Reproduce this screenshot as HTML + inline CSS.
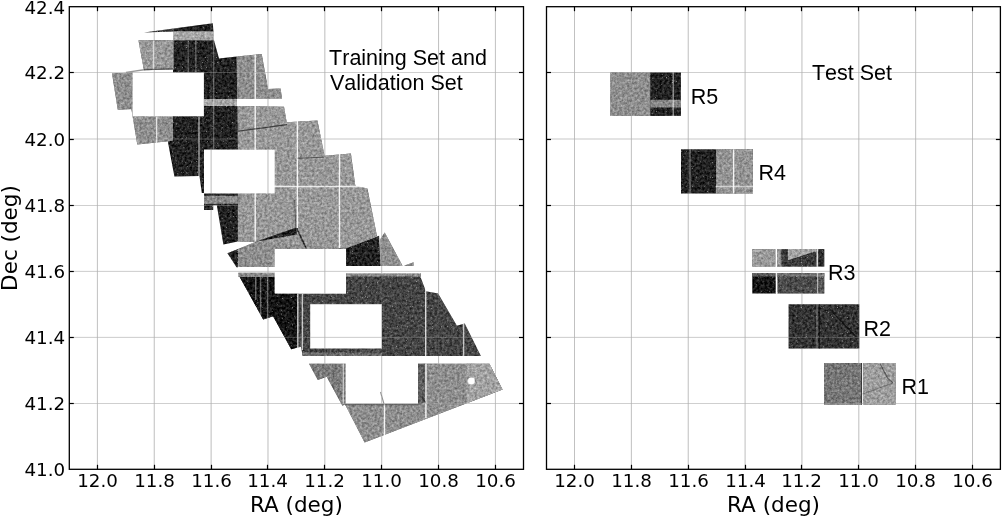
<!DOCTYPE html><html><head><meta charset="utf-8"><title>RA Dec mosaic</title><style>html,body{margin:0;padding:0;background:#fff;overflow:hidden}svg{display:block;filter:blur(0.3px)}</style></head><body><svg width="1002" height="516" viewBox="0 0 1002 516">
<defs>
<filter id="nz" x="0" y="0" width="1002" height="516" filterUnits="userSpaceOnUse" color-interpolation-filters="sRGB">
  <feTurbulence type="fractalNoise" baseFrequency="0.4" numOctaves="3" seed="7" result="t"/>
  <feColorMatrix in="t" type="matrix" values="0 0 0 1 0  0 0 0 1 0  0 0 0 1 0  0 0 0 0 1" result="g"/>
  <feComposite in="SourceGraphic" in2="g" operator="arithmetic" k1="0" k2="1" k3="0.45" k4="-0.225" result="c0"/>
  <feTurbulence type="fractalNoise" baseFrequency="0.8" numOctaves="1" seed="23" result="t2"/>
  <feColorMatrix in="t2" type="matrix" values="1 0 0 0 0  1 0 0 0 0  1 0 0 0 0  0 0 0 0 1" result="t2g"/>
  <feComponentTransfer in="t2g" result="sp">
    <feFuncR type="discrete" tableValues="0 0 0 0 0 0 0 0 0 0 0 0 0 0 0 0 0 0 0.25 0.4 0.5 0.5 0.5 0.5 0.5"/>
    <feFuncG type="discrete" tableValues="0 0 0 0 0 0 0 0 0 0 0 0 0 0 0 0 0 0 0.25 0.4 0.5 0.5 0.5 0.5 0.5"/>
    <feFuncB type="discrete" tableValues="0 0 0 0 0 0 0 0 0 0 0 0 0 0 0 0 0 0 0.25 0.4 0.5 0.5 0.5 0.5 0.5"/>
    <feFuncA type="linear" slope="0" intercept="1"/>
  </feComponentTransfer>
  <feColorMatrix in="c0" type="matrix" values="-1.5 0 0 0 1  -1.5 0 0 0 1  -1.5 0 0 0 1  0 0 0 0 1" result="w"/>
  <feComposite in="w" in2="sp" operator="arithmetic" k1="1" k2="0" k3="0" k4="0" result="ws"/>
  <feComposite in="c0" in2="ws" operator="arithmetic" k1="0" k2="1" k3="1" k4="0" result="c"/>
  <feComposite in="c" in2="SourceAlpha" operator="in"/>
</filter></defs>
<style>.tk{font-family:"DejaVu Sans",sans-serif;font-size:18.3px;fill:#000}.al{font-family:"DejaVu Sans",sans-serif;font-size:21.5px;fill:#000}.an{font-family:"Liberation Sans",Arial,sans-serif;font-size:21.5px;fill:#000;font-kerning:none}</style>
<rect width="1002" height="516" fill="#fff"/>
<g filter="url(#nz)"><polygon points="138.4,40.2 173.6,40.2 173.6,69.5 144.0,70.2" fill="#989898"/><polygon points="112.0,73.4 133.0,72.4 133.0,109.0 117.8,109.8" fill="#8e8e8e"/><polygon points="131.4,109.0 173.0,109.0 173.0,140.8 137.3,144.5" fill="#8e8e8e"/><polygon points="236.6,56.5 261.7,54.0 268.0,89.0 280.6,88.4 282.0,98.5 236.6,99.0" fill="#8e8e8e"/><polygon points="236.6,106.0 284.0,106.7 286.7,122.3 317.4,120.5 324.6,155.7 350.9,153.5 355.3,185.8 367.4,188.5 377.0,236.0 345.7,248.5 255.4,242.0 237.9,241.4 237.9,149.7" fill="#989898"/><polygon points="227.5,253.3 255.4,242.0 345.7,248.5 346.0,266.5 237.9,267.3" fill="#8e8e8e"/><polygon points="144.0,32.6 173.6,28.6 173.6,31.6" fill="#3a3a3a"/><polygon points="173.6,28.6 212.7,23.2 213.6,31.4 173.6,31.4" fill="#222222"/><rect x="173.6" y="31.4" width="40.2" height="8.8" fill="#a6a6a6"/><polygon points="173.6,40.2 214.0,40.2 219.0,58.5 236.6,56.5 237.9,149.7 204.0,149.7 204.0,193.0 201.8,193.0 199.5,176.0 174.4,176.6 167.8,141.2 173.0,140.8 173.0,69.5 173.6,69.5" fill="#222222"/><rect x="204.0" y="99.0" width="32.6" height="7.0" fill="#a6a6a6"/><rect x="204.0" y="193.3" width="36.0" height="11.2" fill="#8a8a8a"/><rect x="204.0" y="193.3" width="34.0" height="2.5" fill="#2a2a2a"/><rect x="204.0" y="203.8" width="34.0" height="1.4" fill="#2a2a2a"/><polygon points="216.7,204.5 237.9,204.5 237.9,241.4 223.4,244.6" fill="#222222"/><rect x="204.0" y="204.5" width="9.4" height="5.5" fill="#222222"/><polygon points="227.5,253.3 238.0,249.2 238.0,267.3 236.5,267.3" fill="#222222"/><polygon points="255.6,241.8 296.3,227.5 297.0,234.5" fill="#222222"/><polygon points="296.0,228.5 297.5,228.0 307.0,248.5 305.5,248.5" fill="#333"/><polygon points="345.7,248.5 379.1,235.7 380.5,266.0 345.7,266.0" fill="#222222"/><polygon points="380.5,239.0 384.7,232.4 402.5,265.8 380.5,265.8" fill="#8e8e8e"/><polygon points="404.0,265.8 413.6,262.2 413.6,265.8" fill="#8e8e8e"/><rect x="238.5" y="272.5" width="36.5" height="4.5" fill="#8a8a8a"/><polygon points="239.7,277.0 274.7,277.0 274.7,293.5 346.0,293.5 346.0,273.4 419.2,273.4 425.9,291.2 438.1,293.5 456.9,325.7 464.7,323.5 481.4,356.9 382.0,356.9 382.0,355.8 302.7,355.8 301.0,346.8 291.2,349.3 273.1,316.3 263.2,319.6" fill="#444444"/><polygon points="239.7,277.0 274.7,277.0 274.7,293.5 297.0,293.5 297.0,347.5 291.2,349.3 273.1,316.3 263.2,319.6" fill="#151515"/><rect x="346.0" y="273.4" width="75.0" height="3.1" fill="#8a8a8a"/><rect x="302.7" y="352.5" width="79.3" height="3.3" fill="#6a6a6a"/><polygon points="308.9,363.4 345.7,363.4 345.7,404.0 342.4,405.8 326.7,376.8 317.8,380.1" fill="#7a7a7a"/><polygon points="344.6,403.5 418.0,403.5 418.0,363.6 489.2,363.6 502.5,389.4 364.6,442.5" fill="#8e8e8e"/><polygon points="418.0,363.6 426.0,363.6 426.0,402.0 418.0,405.0" fill="#5e5e5e"/><polygon points="466.5,363.6 489.2,363.6 502.5,389.4 466.5,403.3" fill="#a2a2a2"/><rect x="610.4" y="72.3" width="39.8" height="43.6" fill="#8e8e8e"/><rect x="650.2" y="72.3" width="30.7" height="43.6" fill="#222222"/><rect x="650.2" y="99.8" width="30.7" height="7.7" fill="#878787"/><rect x="681.0" y="149.3" width="35.1" height="44.2" fill="#222222"/><rect x="716.1" y="149.3" width="36.9" height="44.2" fill="#939393"/><rect x="752.3" y="249.1" width="23.4" height="17.5" fill="#9a9a9a"/><rect x="777.0" y="249.1" width="41.0" height="17.5" fill="#9a9a9a"/><polygon points="781.2,249.3 788.0,249.3 788.3,260.0 814.5,251.5 816.2,251.5 816.2,266.6 781.5,266.6" fill="#3a3a3a"/><polygon points="788.0,249.1 816.2,249.1 816.2,251.5 814.5,251.5 788.3,260.0" fill="#a4a4a4"/><rect x="818.0" y="249.1" width="6.3" height="17.5" fill="#2a2a2a"/><rect x="752.3" y="273.1" width="23.7" height="20.4" fill="#161616"/><rect x="777.5" y="273.1" width="40.5" height="20.4" fill="#4a4a4a"/><rect x="818.0" y="273.1" width="6.3" height="20.4" fill="#555"/><rect x="752.3" y="273.1" width="72.0" height="3.4" fill="#8a8a8a" fill-opacity="0.6"/><rect x="788.6" y="304.3" width="70.7" height="44.2" fill="#333"/><rect x="824.0" y="363.0" width="38.0" height="41.6" fill="#767676"/><rect x="863.3" y="363.0" width="32.3" height="41.6" fill="#9e9e9e"/></g>
<rect x="132.6" y="72.5" width="71.3" height="43.8" fill="#fff"/><rect x="204.0" y="149.7" width="70.7" height="43.7" fill="#fff"/><rect x="274.7" y="249.0" width="71.3" height="44.5" fill="#fff"/><rect x="310.2" y="304.2" width="71.8" height="44.3" fill="#fff"/><rect x="345.7" y="363.4" width="72.3" height="40.2" fill="#fff"/><rect x="236.6" y="99.0" width="53.4" height="7.0" fill="#fff"/><rect x="237.9" y="267.0" width="37.1" height="5.5" fill="#fff"/><rect x="346.0" y="266.0" width="74.0" height="7.4" fill="#fff"/><rect x="300.0" y="356.0" width="190.0" height="7.4" fill="#fff"/><circle cx="471.4" cy="381" r="3.4" fill="#fff"/><line x1="213.6" y1="23.5" x2="213.6" y2="149.7" stroke="#fff" stroke-width="1.4" stroke-opacity="0.3"/><line x1="255.2" y1="54.5" x2="255.2" y2="99.0" stroke="#fff" stroke-width="1.4" stroke-opacity="0.9"/><line x1="255.2" y1="106.0" x2="255.2" y2="241.5" stroke="#fff" stroke-width="1.4" stroke-opacity="0.9"/><line x1="297.4" y1="106.0" x2="297.4" y2="228.0" stroke="#fff" stroke-width="1.4" stroke-opacity="0.9"/><line x1="339.5" y1="153.5" x2="339.5" y2="248.0" stroke="#fff" stroke-width="1.4" stroke-opacity="0.9"/><line x1="199.0" y1="116.5" x2="199.0" y2="176.0" stroke="#fff" stroke-width="1.4" stroke-opacity="0.6"/><line x1="188.2" y1="40.5" x2="188.2" y2="72.0" stroke="#fff" stroke-width="1.4" stroke-opacity="0.3"/><line x1="195.8" y1="40.5" x2="195.8" y2="72.0" stroke="#fff" stroke-width="1.4" stroke-opacity="0.3"/><line x1="213.5" y1="205.5" x2="213.5" y2="241.0" stroke="#fff" stroke-width="1.4" stroke-opacity="0.5"/><line x1="255.7" y1="277.0" x2="255.7" y2="300.0" stroke="#fff" stroke-width="1.4" stroke-opacity="0.35"/><line x1="260.6" y1="277.0" x2="260.6" y2="315.0" stroke="#fff" stroke-width="1.4" stroke-opacity="0.35"/><line x1="267.6" y1="277.0" x2="267.6" y2="318.0" stroke="#fff" stroke-width="1.4" stroke-opacity="0.35"/><line x1="297.8" y1="294.0" x2="297.8" y2="349.0" stroke="#fff" stroke-width="1.4" stroke-opacity="0.7"/><line x1="302.4" y1="294.0" x2="302.4" y2="350.0" stroke="#fff" stroke-width="1.4" stroke-opacity="0.7"/><line x1="425.7" y1="273.4" x2="425.7" y2="357.0" stroke="#fff" stroke-width="1.4" stroke-opacity="0.8"/><line x1="463.6" y1="323.5" x2="463.6" y2="357.0" stroke="#fff" stroke-width="1.4" stroke-opacity="0.7"/><line x1="425.9" y1="363.6" x2="425.9" y2="418.0" stroke="#fff" stroke-width="1.4" stroke-opacity="0.9"/><line x1="384.5" y1="403.6" x2="384.5" y2="436.0" stroke="#fff" stroke-width="1.4" stroke-opacity="0.9"/><line x1="343.3" y1="363.6" x2="343.3" y2="404.0" stroke="#fff" stroke-width="1.4" stroke-opacity="0.6"/><line x1="153.5" y1="40.5" x2="153.5" y2="69.5" stroke="#fff" stroke-width="1.4" stroke-opacity="0.75"/><line x1="156.6" y1="116.5" x2="156.6" y2="143.5" stroke="#fff" stroke-width="1.4" stroke-opacity="0.75"/><line x1="238.0" y1="186.5" x2="367.0" y2="186.5" stroke="#fff" stroke-width="1.4" stroke-opacity="0.8"/><line x1="237.5" y1="131.3" x2="287" y2="124.6" stroke="#262626" stroke-width="1.1" stroke-opacity="0.8"/><line x1="297.5" y1="158.3" x2="324" y2="157.2" stroke="#262626" stroke-width="1.1" stroke-opacity="0.6"/><line x1="144" y1="69.6" x2="173" y2="68.8" stroke="#262626" stroke-width="1.1" stroke-opacity="0.6"/><line x1="126" y1="72.4" x2="144" y2="69.8" stroke="#555" stroke-width="1.4" stroke-opacity="0.6"/><line x1="294.6" y1="200" x2="295.8" y2="227.5" stroke="#262626" stroke-width="1.1" stroke-opacity="0.5"/><line x1="380.5" y1="392" x2="384" y2="404" stroke="#262626" stroke-width="1.1" stroke-opacity="0.5"/><line x1="421.5" y1="396.5" x2="425.5" y2="402.5" stroke="#262626" stroke-width="1.1" stroke-opacity="0.7"/><line x1="345" y1="404.8" x2="418" y2="404.8" stroke="#262626" stroke-width="1.1" stroke-opacity="0.5"/><line x1="673.2" y1="72.3" x2="673.2" y2="115.9" stroke="#fff" stroke-width="1.2" stroke-opacity="0.6"/><line x1="733.6" y1="149.3" x2="733.6" y2="193.5" stroke="#fff" stroke-width="1.4" stroke-opacity="0.9"/><line x1="716.0" y1="186.5" x2="753.0" y2="186.5" stroke="#fff" stroke-width="1.3" stroke-opacity="0.6"/><line x1="690.0" y1="149.3" x2="690.0" y2="193.5" stroke="#fff" stroke-width="1.4" stroke-opacity="0.35"/><line x1="776.3" y1="249.1" x2="776.3" y2="293.5" stroke="#fff" stroke-width="1.4" stroke-opacity="0.8"/><line x1="817.0" y1="304.3" x2="817.0" y2="348.5" stroke="#9a9a9a" stroke-width="1.6" stroke-opacity="0.5"/><line x1="819.3" y1="304.3" x2="819.3" y2="348.5" stroke="#000" stroke-width="1.0" stroke-opacity="0.7"/><line x1="861.6" y1="363.0" x2="861.6" y2="404.6" stroke="#222" stroke-width="1.0" stroke-opacity="0.8"/><line x1="880" y1="363.5" x2="887.8" y2="378.4" stroke="#262626" stroke-width="1.1" stroke-opacity="0.6"/><line x1="829" y1="308" x2="836" y2="316" stroke="#000" stroke-width="1.1" stroke-opacity="0.6"/><line x1="836" y1="316" x2="856.5" y2="337" stroke="#000" stroke-width="1.1" stroke-opacity="0.6"/><line x1="887.8" y1="378.4" x2="893" y2="382.9" stroke="#262626" stroke-width="1.1" stroke-opacity="0.6"/><line x1="862.5" y1="393.9" x2="893" y2="382.9" stroke="#262626" stroke-width="1.1" stroke-opacity="0.35"/><line x1="817.6" y1="249.1" x2="817.6" y2="293.5" stroke="#fff" stroke-width="1.2" stroke-opacity="0.6"/>
<g style="mix-blend-mode:darken"><line x1="97.40" y1="6.7" x2="97.40" y2="469.3" stroke="#b0b0b0" stroke-width="0.75" stroke-opacity="1.0"/><line x1="154.26" y1="6.7" x2="154.26" y2="469.3" stroke="#b0b0b0" stroke-width="0.75" stroke-opacity="1.0"/><line x1="211.12" y1="6.7" x2="211.12" y2="469.3" stroke="#b0b0b0" stroke-width="0.75" stroke-opacity="1.0"/><line x1="267.98" y1="6.7" x2="267.98" y2="469.3" stroke="#b0b0b0" stroke-width="0.75" stroke-opacity="1.0"/><line x1="324.84" y1="6.7" x2="324.84" y2="469.3" stroke="#b0b0b0" stroke-width="0.75" stroke-opacity="1.0"/><line x1="381.70" y1="6.7" x2="381.70" y2="469.3" stroke="#b0b0b0" stroke-width="0.75" stroke-opacity="1.0"/><line x1="438.56" y1="6.7" x2="438.56" y2="469.3" stroke="#b0b0b0" stroke-width="0.75" stroke-opacity="1.0"/><line x1="495.42" y1="6.7" x2="495.42" y2="469.3" stroke="#b0b0b0" stroke-width="0.75" stroke-opacity="1.0"/><line x1="69.3" y1="403.50" x2="523.5" y2="403.50" stroke="#b0b0b0" stroke-width="0.42" stroke-opacity="1.0"/><line x1="69.3" y1="337.40" x2="523.5" y2="337.40" stroke="#b0b0b0" stroke-width="0.42" stroke-opacity="1.0"/><line x1="69.3" y1="271.40" x2="523.5" y2="271.40" stroke="#b0b0b0" stroke-width="0.42" stroke-opacity="1.0"/><line x1="69.3" y1="205.50" x2="523.5" y2="205.50" stroke="#b0b0b0" stroke-width="0.42" stroke-opacity="1.0"/><line x1="69.3" y1="139.00" x2="523.5" y2="139.00" stroke="#b0b0b0" stroke-width="0.42" stroke-opacity="1.0"/><line x1="69.3" y1="72.50" x2="523.5" y2="72.50" stroke="#b0b0b0" stroke-width="0.42" stroke-opacity="1.0"/><line x1="574.50" y1="6.7" x2="574.50" y2="469.3" stroke="#b0b0b0" stroke-width="0.75" stroke-opacity="1.0"/><line x1="631.36" y1="6.7" x2="631.36" y2="469.3" stroke="#b0b0b0" stroke-width="0.75" stroke-opacity="1.0"/><line x1="688.22" y1="6.7" x2="688.22" y2="469.3" stroke="#b0b0b0" stroke-width="0.75" stroke-opacity="1.0"/><line x1="745.08" y1="6.7" x2="745.08" y2="469.3" stroke="#b0b0b0" stroke-width="0.75" stroke-opacity="1.0"/><line x1="801.94" y1="6.7" x2="801.94" y2="469.3" stroke="#b0b0b0" stroke-width="0.75" stroke-opacity="1.0"/><line x1="858.80" y1="6.7" x2="858.80" y2="469.3" stroke="#b0b0b0" stroke-width="0.75" stroke-opacity="1.0"/><line x1="915.66" y1="6.7" x2="915.66" y2="469.3" stroke="#b0b0b0" stroke-width="0.75" stroke-opacity="1.0"/><line x1="972.52" y1="6.7" x2="972.52" y2="469.3" stroke="#b0b0b0" stroke-width="0.75" stroke-opacity="1.0"/><line x1="546.5" y1="403.50" x2="1000.4" y2="403.50" stroke="#b0b0b0" stroke-width="0.42" stroke-opacity="1.0"/><line x1="546.5" y1="337.40" x2="1000.4" y2="337.40" stroke="#b0b0b0" stroke-width="0.42" stroke-opacity="1.0"/><line x1="546.5" y1="271.40" x2="1000.4" y2="271.40" stroke="#b0b0b0" stroke-width="0.42" stroke-opacity="1.0"/><line x1="546.5" y1="205.50" x2="1000.4" y2="205.50" stroke="#b0b0b0" stroke-width="0.42" stroke-opacity="1.0"/><line x1="546.5" y1="139.00" x2="1000.4" y2="139.00" stroke="#b0b0b0" stroke-width="0.42" stroke-opacity="1.0"/><line x1="546.5" y1="72.50" x2="1000.4" y2="72.50" stroke="#b0b0b0" stroke-width="0.42" stroke-opacity="1.0"/></g>
<line x1="97.40" y1="6.7" x2="97.40" y2="469.3" stroke="#b0b0b0" stroke-width="0.75" stroke-opacity="0.15"/><line x1="154.26" y1="6.7" x2="154.26" y2="469.3" stroke="#b0b0b0" stroke-width="0.75" stroke-opacity="0.15"/><line x1="211.12" y1="6.7" x2="211.12" y2="469.3" stroke="#b0b0b0" stroke-width="0.75" stroke-opacity="0.15"/><line x1="267.98" y1="6.7" x2="267.98" y2="469.3" stroke="#b0b0b0" stroke-width="0.75" stroke-opacity="0.15"/><line x1="324.84" y1="6.7" x2="324.84" y2="469.3" stroke="#b0b0b0" stroke-width="0.75" stroke-opacity="0.15"/><line x1="381.70" y1="6.7" x2="381.70" y2="469.3" stroke="#b0b0b0" stroke-width="0.75" stroke-opacity="0.15"/><line x1="438.56" y1="6.7" x2="438.56" y2="469.3" stroke="#b0b0b0" stroke-width="0.75" stroke-opacity="0.15"/><line x1="495.42" y1="6.7" x2="495.42" y2="469.3" stroke="#b0b0b0" stroke-width="0.75" stroke-opacity="0.15"/><line x1="69.3" y1="403.50" x2="523.5" y2="403.50" stroke="#b0b0b0" stroke-width="0.42" stroke-opacity="0.8"/><line x1="69.3" y1="337.40" x2="523.5" y2="337.40" stroke="#b0b0b0" stroke-width="0.42" stroke-opacity="0.8"/><line x1="69.3" y1="271.40" x2="523.5" y2="271.40" stroke="#b0b0b0" stroke-width="0.42" stroke-opacity="0.8"/><line x1="69.3" y1="205.50" x2="523.5" y2="205.50" stroke="#b0b0b0" stroke-width="0.42" stroke-opacity="0.8"/><line x1="69.3" y1="139.00" x2="523.5" y2="139.00" stroke="#b0b0b0" stroke-width="0.42" stroke-opacity="0.8"/><line x1="69.3" y1="72.50" x2="523.5" y2="72.50" stroke="#b0b0b0" stroke-width="0.42" stroke-opacity="0.8"/><line x1="574.50" y1="6.7" x2="574.50" y2="469.3" stroke="#b0b0b0" stroke-width="0.75" stroke-opacity="0.15"/><line x1="631.36" y1="6.7" x2="631.36" y2="469.3" stroke="#b0b0b0" stroke-width="0.75" stroke-opacity="0.15"/><line x1="688.22" y1="6.7" x2="688.22" y2="469.3" stroke="#b0b0b0" stroke-width="0.75" stroke-opacity="0.15"/><line x1="745.08" y1="6.7" x2="745.08" y2="469.3" stroke="#b0b0b0" stroke-width="0.75" stroke-opacity="0.15"/><line x1="801.94" y1="6.7" x2="801.94" y2="469.3" stroke="#b0b0b0" stroke-width="0.75" stroke-opacity="0.15"/><line x1="858.80" y1="6.7" x2="858.80" y2="469.3" stroke="#b0b0b0" stroke-width="0.75" stroke-opacity="0.15"/><line x1="915.66" y1="6.7" x2="915.66" y2="469.3" stroke="#b0b0b0" stroke-width="0.75" stroke-opacity="0.15"/><line x1="972.52" y1="6.7" x2="972.52" y2="469.3" stroke="#b0b0b0" stroke-width="0.75" stroke-opacity="0.15"/><line x1="546.5" y1="403.50" x2="1000.4" y2="403.50" stroke="#b0b0b0" stroke-width="0.42" stroke-opacity="0.8"/><line x1="546.5" y1="337.40" x2="1000.4" y2="337.40" stroke="#b0b0b0" stroke-width="0.42" stroke-opacity="0.8"/><line x1="546.5" y1="271.40" x2="1000.4" y2="271.40" stroke="#b0b0b0" stroke-width="0.42" stroke-opacity="0.8"/><line x1="546.5" y1="205.50" x2="1000.4" y2="205.50" stroke="#b0b0b0" stroke-width="0.42" stroke-opacity="0.8"/><line x1="546.5" y1="139.00" x2="1000.4" y2="139.00" stroke="#b0b0b0" stroke-width="0.42" stroke-opacity="0.8"/><line x1="546.5" y1="72.50" x2="1000.4" y2="72.50" stroke="#b0b0b0" stroke-width="0.42" stroke-opacity="0.8"/>
<line x1="97.5" y1="464.8" x2="97.5" y2="469.3" stroke="#000" stroke-width="1.2" stroke-opacity="1.0"/>
<line x1="97.5" y1="6.7" x2="97.5" y2="11.2" stroke="#000" stroke-width="1.2" stroke-opacity="1.0"/>
<line x1="154.5" y1="464.8" x2="154.5" y2="469.3" stroke="#000" stroke-width="1.2" stroke-opacity="1.0"/>
<line x1="154.5" y1="6.7" x2="154.5" y2="11.2" stroke="#000" stroke-width="1.2" stroke-opacity="1.0"/>
<line x1="211.5" y1="464.8" x2="211.5" y2="469.3" stroke="#000" stroke-width="1.2" stroke-opacity="1.0"/>
<line x1="211.5" y1="6.7" x2="211.5" y2="11.2" stroke="#000" stroke-width="1.2" stroke-opacity="1.0"/>
<line x1="267.5" y1="464.8" x2="267.5" y2="469.3" stroke="#000" stroke-width="1.2" stroke-opacity="1.0"/>
<line x1="267.5" y1="6.7" x2="267.5" y2="11.2" stroke="#000" stroke-width="1.2" stroke-opacity="1.0"/>
<line x1="324.5" y1="464.8" x2="324.5" y2="469.3" stroke="#000" stroke-width="1.2" stroke-opacity="1.0"/>
<line x1="324.5" y1="6.7" x2="324.5" y2="11.2" stroke="#000" stroke-width="1.2" stroke-opacity="1.0"/>
<line x1="381.5" y1="464.8" x2="381.5" y2="469.3" stroke="#000" stroke-width="1.2" stroke-opacity="1.0"/>
<line x1="381.5" y1="6.7" x2="381.5" y2="11.2" stroke="#000" stroke-width="1.2" stroke-opacity="1.0"/>
<line x1="438.5" y1="464.8" x2="438.5" y2="469.3" stroke="#000" stroke-width="1.2" stroke-opacity="1.0"/>
<line x1="438.5" y1="6.7" x2="438.5" y2="11.2" stroke="#000" stroke-width="1.2" stroke-opacity="1.0"/>
<line x1="495.5" y1="464.8" x2="495.5" y2="469.3" stroke="#000" stroke-width="1.2" stroke-opacity="1.0"/>
<line x1="495.5" y1="6.7" x2="495.5" y2="11.2" stroke="#000" stroke-width="1.2" stroke-opacity="1.0"/>
<line x1="69.3" y1="403.5" x2="73.8" y2="403.5" stroke="#000" stroke-width="1.2" stroke-opacity="1.0"/>
<line x1="519.0" y1="403.5" x2="523.5" y2="403.5" stroke="#000" stroke-width="1.2" stroke-opacity="1.0"/>
<line x1="69.3" y1="337.5" x2="73.8" y2="337.5" stroke="#000" stroke-width="1.2" stroke-opacity="1.0"/>
<line x1="519.0" y1="337.5" x2="523.5" y2="337.5" stroke="#000" stroke-width="1.2" stroke-opacity="1.0"/>
<line x1="69.3" y1="271.5" x2="73.8" y2="271.5" stroke="#000" stroke-width="1.2" stroke-opacity="1.0"/>
<line x1="519.0" y1="271.5" x2="523.5" y2="271.5" stroke="#000" stroke-width="1.2" stroke-opacity="1.0"/>
<line x1="69.3" y1="205.5" x2="73.8" y2="205.5" stroke="#000" stroke-width="1.2" stroke-opacity="1.0"/>
<line x1="519.0" y1="205.5" x2="523.5" y2="205.5" stroke="#000" stroke-width="1.2" stroke-opacity="1.0"/>
<line x1="69.3" y1="139.5" x2="73.8" y2="139.5" stroke="#000" stroke-width="1.2" stroke-opacity="1.0"/>
<line x1="519.0" y1="139.5" x2="523.5" y2="139.5" stroke="#000" stroke-width="1.2" stroke-opacity="1.0"/>
<line x1="69.3" y1="72.5" x2="73.8" y2="72.5" stroke="#000" stroke-width="1.2" stroke-opacity="1.0"/>
<line x1="519.0" y1="72.5" x2="523.5" y2="72.5" stroke="#000" stroke-width="1.2" stroke-opacity="1.0"/>
<rect x="69.3" y="6.7" width="454.2" height="462.6" fill="none" stroke="#000" stroke-width="1.3"/>
<text x="97.5" y="486.8" class="tk" text-anchor="middle">12.0</text>
<text x="154.5" y="486.8" class="tk" text-anchor="middle">11.8</text>
<text x="211.5" y="486.8" class="tk" text-anchor="middle">11.6</text>
<text x="267.5" y="486.8" class="tk" text-anchor="middle">11.4</text>
<text x="324.5" y="486.8" class="tk" text-anchor="middle">11.2</text>
<text x="381.5" y="486.8" class="tk" text-anchor="middle">11.0</text>
<text x="438.5" y="486.8" class="tk" text-anchor="middle">10.8</text>
<text x="495.5" y="486.8" class="tk" text-anchor="middle">10.6</text>
<text x="65.2" y="475.9" class="tk" text-anchor="end">41.0</text>
<text x="65.2" y="410.1" class="tk" text-anchor="end">41.2</text>
<text x="65.2" y="344.1" class="tk" text-anchor="end">41.4</text>
<text x="65.2" y="278.1" class="tk" text-anchor="end">41.6</text>
<text x="65.2" y="212.1" class="tk" text-anchor="end">41.8</text>
<text x="65.2" y="146.1" class="tk" text-anchor="end">42.0</text>
<text x="65.2" y="79.1" class="tk" text-anchor="end">42.2</text>
<text x="65.2" y="13.5" class="tk" text-anchor="end">42.4</text>
<text x="296.4" y="511.7" class="al" text-anchor="middle">RA (deg)</text>
<line x1="574.5" y1="464.8" x2="574.5" y2="469.3" stroke="#000" stroke-width="1.2" stroke-opacity="1.0"/>
<line x1="574.5" y1="6.7" x2="574.5" y2="11.2" stroke="#000" stroke-width="1.2" stroke-opacity="1.0"/>
<line x1="631.5" y1="464.8" x2="631.5" y2="469.3" stroke="#000" stroke-width="1.2" stroke-opacity="1.0"/>
<line x1="631.5" y1="6.7" x2="631.5" y2="11.2" stroke="#000" stroke-width="1.2" stroke-opacity="1.0"/>
<line x1="688.5" y1="464.8" x2="688.5" y2="469.3" stroke="#000" stroke-width="1.2" stroke-opacity="1.0"/>
<line x1="688.5" y1="6.7" x2="688.5" y2="11.2" stroke="#000" stroke-width="1.2" stroke-opacity="1.0"/>
<line x1="745.5" y1="464.8" x2="745.5" y2="469.3" stroke="#000" stroke-width="1.2" stroke-opacity="1.0"/>
<line x1="745.5" y1="6.7" x2="745.5" y2="11.2" stroke="#000" stroke-width="1.2" stroke-opacity="1.0"/>
<line x1="801.5" y1="464.8" x2="801.5" y2="469.3" stroke="#000" stroke-width="1.2" stroke-opacity="1.0"/>
<line x1="801.5" y1="6.7" x2="801.5" y2="11.2" stroke="#000" stroke-width="1.2" stroke-opacity="1.0"/>
<line x1="858.5" y1="464.8" x2="858.5" y2="469.3" stroke="#000" stroke-width="1.2" stroke-opacity="1.0"/>
<line x1="858.5" y1="6.7" x2="858.5" y2="11.2" stroke="#000" stroke-width="1.2" stroke-opacity="1.0"/>
<line x1="915.5" y1="464.8" x2="915.5" y2="469.3" stroke="#000" stroke-width="1.2" stroke-opacity="1.0"/>
<line x1="915.5" y1="6.7" x2="915.5" y2="11.2" stroke="#000" stroke-width="1.2" stroke-opacity="1.0"/>
<line x1="972.5" y1="464.8" x2="972.5" y2="469.3" stroke="#000" stroke-width="1.2" stroke-opacity="1.0"/>
<line x1="972.5" y1="6.7" x2="972.5" y2="11.2" stroke="#000" stroke-width="1.2" stroke-opacity="1.0"/>
<line x1="546.5" y1="403.5" x2="551.0" y2="403.5" stroke="#000" stroke-width="1.2" stroke-opacity="1.0"/>
<line x1="995.9" y1="403.5" x2="1000.4" y2="403.5" stroke="#000" stroke-width="1.2" stroke-opacity="1.0"/>
<line x1="546.5" y1="337.5" x2="551.0" y2="337.5" stroke="#000" stroke-width="1.2" stroke-opacity="1.0"/>
<line x1="995.9" y1="337.5" x2="1000.4" y2="337.5" stroke="#000" stroke-width="1.2" stroke-opacity="1.0"/>
<line x1="546.5" y1="271.5" x2="551.0" y2="271.5" stroke="#000" stroke-width="1.2" stroke-opacity="1.0"/>
<line x1="995.9" y1="271.5" x2="1000.4" y2="271.5" stroke="#000" stroke-width="1.2" stroke-opacity="1.0"/>
<line x1="546.5" y1="205.5" x2="551.0" y2="205.5" stroke="#000" stroke-width="1.2" stroke-opacity="1.0"/>
<line x1="995.9" y1="205.5" x2="1000.4" y2="205.5" stroke="#000" stroke-width="1.2" stroke-opacity="1.0"/>
<line x1="546.5" y1="139.5" x2="551.0" y2="139.5" stroke="#000" stroke-width="1.2" stroke-opacity="1.0"/>
<line x1="995.9" y1="139.5" x2="1000.4" y2="139.5" stroke="#000" stroke-width="1.2" stroke-opacity="1.0"/>
<line x1="546.5" y1="72.5" x2="551.0" y2="72.5" stroke="#000" stroke-width="1.2" stroke-opacity="1.0"/>
<line x1="995.9" y1="72.5" x2="1000.4" y2="72.5" stroke="#000" stroke-width="1.2" stroke-opacity="1.0"/>
<rect x="546.5" y="6.7" width="453.9" height="462.6" fill="none" stroke="#000" stroke-width="1.3"/>
<text x="574.5" y="486.8" class="tk" text-anchor="middle">12.0</text>
<text x="631.5" y="486.8" class="tk" text-anchor="middle">11.8</text>
<text x="688.5" y="486.8" class="tk" text-anchor="middle">11.6</text>
<text x="745.5" y="486.8" class="tk" text-anchor="middle">11.4</text>
<text x="801.5" y="486.8" class="tk" text-anchor="middle">11.2</text>
<text x="858.5" y="486.8" class="tk" text-anchor="middle">11.0</text>
<text x="915.5" y="486.8" class="tk" text-anchor="middle">10.8</text>
<text x="972.5" y="486.8" class="tk" text-anchor="middle">10.6</text>
<text x="773.5" y="511.7" class="al" text-anchor="middle">RA (deg)</text>
<text transform="translate(16.6,238.0) rotate(-90)" class="al" text-anchor="middle">Dec (deg)</text>
<text x="329.1" y="64.8" class="an">Training Set and</text>
<text x="330.0" y="90.4" class="an">Validation Set</text>
<text x="811.9" y="79.6" class="an">Test Set</text>
<text x="690.8" y="103.6" class="an">R5</text>
<text x="758.4" y="180.2" class="an">R4</text>
<text x="828.0" y="279.6" class="an">R3</text>
<text x="863.4" y="335.9" class="an">R2</text>
<text x="901.6" y="393.7" class="an">R1</text>
</svg></body></html>
